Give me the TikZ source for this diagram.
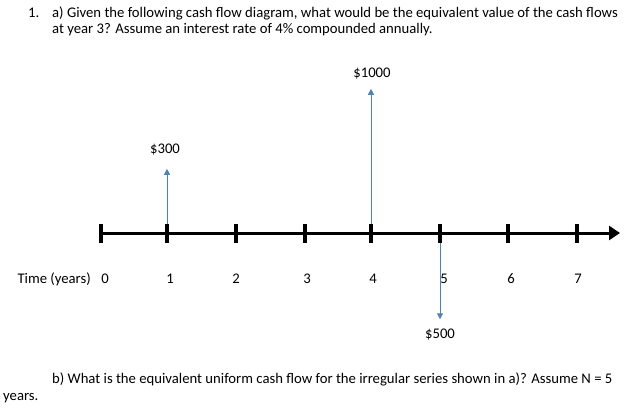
\documentclass[tikz,border=0pt]{standalone}
\usepackage{fontspec}
\setmainfont{Carlito}
\usetikzlibrary{arrows.meta,positioning}
\definecolor{flowblue}{RGB}{79,129,189}
\tikzset{
  txt/.style={anchor=base west, inner sep=0pt},
  cash/.style={anchor=base, inner sep=0pt},
  flow/.style={flowblue, line width=1pt, -{Triangle[length=6pt,width=6pt]}},
  axis/.style={line width=3pt, -{Triangle[length=11pt,width=14pt]}},
  yeartick/.style={line width=3.5pt},
}

\begin{document}
\begin{tikzpicture}[x=1pt,y=-1pt,font=\fontsize{14.7}{17}\selectfont]
\fill[white] (0,0) rectangle (636,407);
\useasboundingbox (0,0) rectangle (636,407);

%question a
\node[txt] (num) at (28,17) {1.};
\node[txt] (qa1) at (52,17) {a) Given the following cash flow diagram, what would be the equivalent value of the cash flows};
\node[txt] (qa2) at (52,33) {at year 3? Assume an interest rate of 4\% compounded annually.};

%time line
\foreach \i/\x in {0/101,1/167,2/236,3/305,4/371,5/440,6/508,7/577}
  \coordinate (t\i) at (\x,233);
\coordinate (tend) at (620,233);

%cash flows
\node[cash] (c300) at (165,153) {\$300};
\node[cash] (c1000) at (372,77) {\$1000};
\node[cash] (c500) at (440,338) {\$500};
\draw[flow, shorten >=14pt] (t1) -- (t1 |- c300.south);
\draw[flow, shorten >=10pt] (t4) -- (t4 |- c1000.south);
\draw[flow, shorten >=9pt] (t5) -- (t5 |- c500.north);

\draw[axis] (t0) -- (tend);
\foreach \i in {0,...,7}
  \draw[yeartick] ([yshift=-9.5pt]t\i) -- ([yshift=9.5pt]t\i);

%years
\node[txt, anchor=base east] (time) at (91,283) {Time (years)};
\foreach \i/\x in {0/105,1/170,2/236,3/307,4/373,5/444,6/511,7/578}
  \node[cash] (y\i) at (\x,283) {\i};

%question b
\node[txt] (qb1) at (52,383) {b) What is the equivalent uniform cash flow for the irregular series shown in a)? Assume N = 5};
\node[txt] (qb2) at (3,400) {years.};
\end{tikzpicture}
\end{document}
